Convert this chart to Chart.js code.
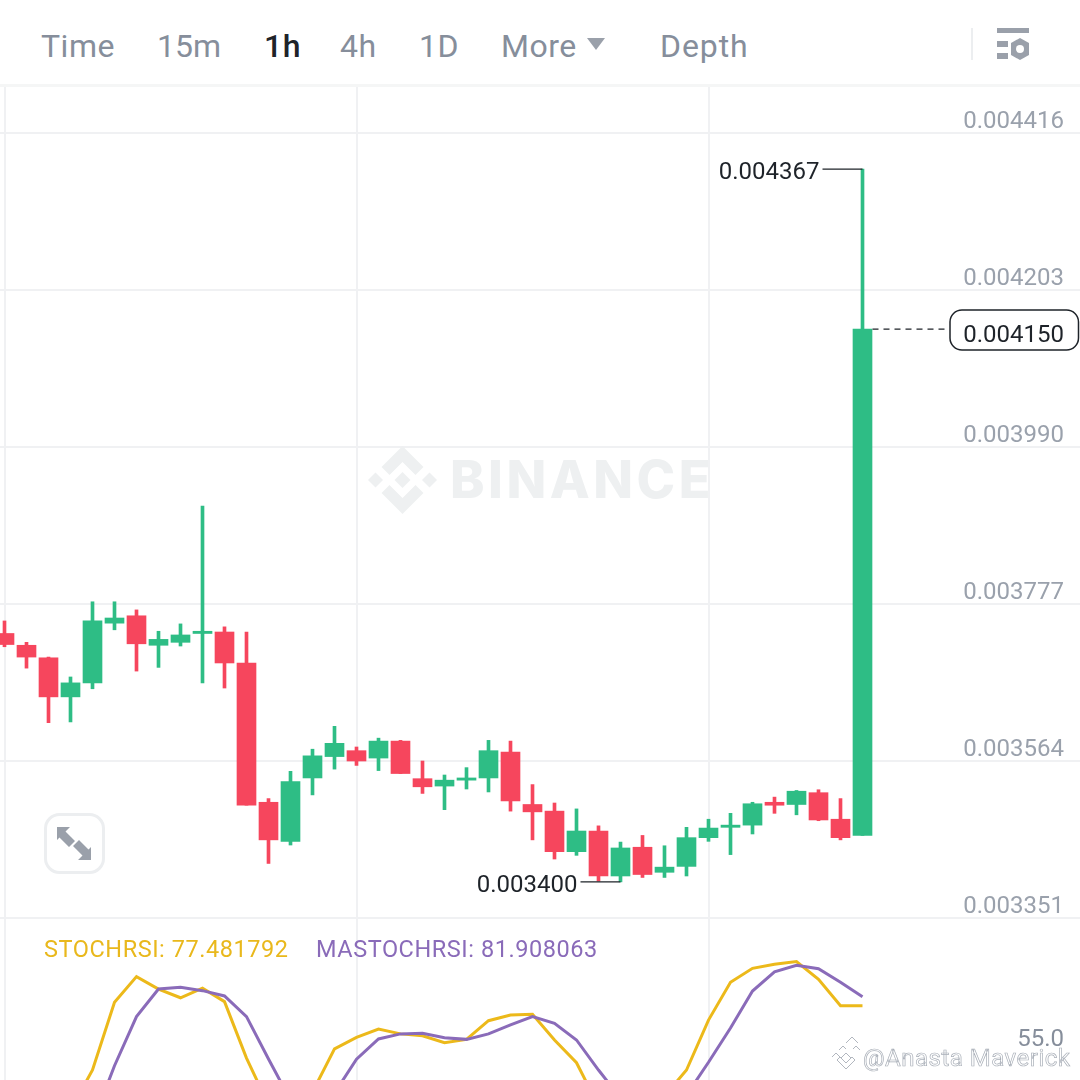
<!DOCTYPE html>
<html><head><meta charset="utf-8">
<script src="https://cdn.jsdelivr.net/npm/chart.js@4"></script>
<style>
html,body{margin:0;padding:0;background:#fff;width:1080px;height:1080px;overflow:hidden;font-family:Roboto,sans-serif}
canvas{position:absolute;left:0}
.t{position:absolute;top:26px;font-size:32px;line-height:40px;color:#868e9b;letter-spacing:.5px;white-space:nowrap}
.leg{position:absolute;top:935px;font-size:23.5px;line-height:28px;letter-spacing:.55px;white-space:nowrap}
svg{position:absolute;left:0;top:0;pointer-events:none}
#credit{position:absolute;left:863px;top:1043px;font-size:24px;line-height:30px;color:#fff;-webkit-text-stroke:.7px #a9afb8;letter-spacing:.5px;white-space:nowrap}
</style></head><body>
<div class="t" style="left:41px">Time</div>
<div class="t" style="left:157px;letter-spacing:0">15m</div>
<div class="t" style="left:264px;color:#1e2329;font-weight:500">1h</div>
<div class="t" style="left:340px">4h</div>
<div class="t" style="left:419px">1D</div>
<div class="t" style="left:501px">More</div>
<div class="t" style="left:660px;letter-spacing:.9px">Depth</div>
<canvas id="price" width="1080" height="832" style="top:87px"></canvas>
<canvas id="stoch" width="1080" height="161" style="top:919px"></canvas>
<div class="leg" id="legA" style="left:44px;color:#e9b81c"></div>
<div class="leg" id="legB" style="left:316px;color:#8a6bb9"></div>
<div id="credit">@Anasta Maverick</div>
<svg width="1080" height="1080">
  <rect x="0" y="84" width="1080" height="3" fill="#f5f6f6"/>
  <polygon points="587,38 605,38 596,50" fill="#9aa0aa"/>
  <rect x="971" y="28" width="2" height="32" fill="#eceef0"/>
  <rect x="997" y="28" width="32" height="5" fill="#9aa0aa"/>
  <rect x="997" y="41" width="11" height="6" fill="#9aa0aa"/>
  <rect x="997" y="53" width="11" height="6" fill="#9aa0aa"/>
  <polygon points="1020,38 1029,43 1029,55 1020,60 1011,55 1011,43" fill="#9aa0aa"/>
  <circle cx="1020" cy="49" r="4" fill="#fff"/>
  <rect x="45.5" y="814.5" width="58" height="58" rx="14" fill="#fff" stroke="#eceef0" stroke-width="3"/>
  <polygon points="57,827 70,827 65.5,831.5 75,841 69,847 59.5,837.5 57,840" fill="#9aa0aa"/>
  <polygon points="91,860 78,860 82.5,855.5 73,846 79,840 88.5,849.5 91,847" fill="#9aa0aa"/>
  <g fill="none" stroke="#b2b7bf" stroke-width="1">
    <path d="M846 1043 l6 -6 l6 6 M839 1050 l4 -4 l3 3 M853 1049 l3 -3 l4 4 M832 1057 l4 -4 l5 5 l5 -5 l5 5 M837 1060 l9 9 l9 -9 l-3 -3 l-6 6 l-6 -6 z"/>
  </g>
</svg>
<script>
const candleIndex = [0,1,2,3,4,5,6,7,8,9,10,11,12,13,14,15,16,17,18,19,20,21,22,23,24,25,26,27,28,29,30,31,32,33,34,35,36,37,38,39];
const openPrices = [0.003737,0.003721,0.003704,0.003651,0.003670,0.003751,0.003761,0.003721,0.003725,0.003737,0.003739,0.003697,0.003508,0.003455,0.003541,0.003570,0.003578,0.003568,0.003591,0.003540,0.003530,0.003538,0.003541,0.003576,0.003505,0.003496,0.003441,0.003469,0.003408,0.003447,0.003413,0.003421,0.003460,0.003474,0.003477,0.003508,0.003505,0.003521,0.003485,0.003463];
const closePrices = [0.003722,0.003705,0.003651,0.003670,0.003754,0.003758,0.003723,0.003729,0.003735,0.003740,0.003697,0.003504,0.003457,0.003536,0.003571,0.003588,0.003564,0.003591,0.003547,0.003529,0.003538,0.003541,0.003578,0.003510,0.003495,0.003441,0.003469,0.003408,0.003446,0.003410,0.003420,0.003460,0.003473,0.003477,0.003506,0.003504,0.003523,0.003484,0.003460,0.004150];
const highPrices = [0.003754,0.003725,0.003705,0.003678,0.003780,0.003780,0.003769,0.003740,0.003750,0.003910,0.003746,0.003739,0.003513,0.003550,0.003580,0.003611,0.003583,0.003595,0.003592,0.003564,0.003545,0.003555,0.003592,0.003591,0.003532,0.003507,0.003499,0.003476,0.003454,0.003463,0.003449,0.003474,0.003485,0.003493,0.003508,0.003515,0.003524,0.003525,0.003513,0.004367];
const lowPrices = [0.003719,0.003690,0.003616,0.003617,0.003662,0.003742,0.003686,0.003691,0.003720,0.003670,0.003663,0.003504,0.003425,0.003450,0.003518,0.003553,0.003558,0.003551,0.003547,0.003520,0.003498,0.003526,0.003522,0.003496,0.003457,0.003431,0.003436,0.003401,0.003400,0.003406,0.003406,0.003408,0.003455,0.003437,0.003465,0.003493,0.003491,0.003483,0.003457,0.003463];
const priceTicks = [0.004416,0.004203,0.003990,0.003777,0.003564,0.003351];
const stochRsi = [null,null,11.3,26.1,45.8,79.2,91.8,85.7,81.4,86.1,79.5,51.7,28.6,16.3,35.0,56.2,61.9,66.0,63.6,62.7,59.3,60.9,70.1,72.9,73.3,60.6,49.4,28.1,13.8,6.4,33.0,45.8,70.4,89.0,95.9,97.9,99.2,90.5,77.5,77.481792];
const maStochRsi = [null,null,null,6.4,19.7,47.9,72.1,85.7,86.6,84.9,82.3,72.1,51.2,31.0,16.3,34.5,51.1,61.1,63.6,63.9,61.7,60.9,63.6,68.0,72.1,68.8,60.6,45.8,32.0,23.7,23.7,33.5,49.6,66.5,84.7,94.2,97.4,95.7,89.0,81.908063];
const stochTicks = [55.0];
const verticalGridAt = [0,16,32];
const lastPrice = closePrices[closePrices.length-1];

const GREEN='#2ebd85', RED='#f6465d', GRID='#f0f1f3', TICK='#9aa1ac', DARK='#1e2329';
const FONT='Roboto, sans-serif';
const xMin=-4.5/22, xMax=1075.5/22;

function xScale(){return {type:'linear',min:xMin,max:xMax,offset:false,display:true,
  afterBuildTicks:s=>{s.ticks=verticalGridAt.map(v=>({value:v}));},
  grid:{color:GRID,lineWidth:2,drawTicks:false,offset:false},border:{display:false},ticks:{display:false}};}
function noFit(s){s.width=0;s.paddingTop=0;s.paddingBottom=0;}

const colors=candleIndex.map(i=>closePrices[i]>=openPrices[i]?GREEN:RED);

const overlay={id:'overlay',
  beforeDatasetsDraw(c){
    const g=c.ctx;g.save();
    g.fillStyle='#eef0f1';
    const cx=402.5,cy=480-87;
    const d=(x,y,r)=>{g.beginPath();g.moveTo(x,y-r);g.lineTo(x+r,y);g.lineTo(x,y+r);g.lineTo(x-r,y);g.closePath();g.fill();};
    d(cx,cy,8);d(cx-27,cy,7.5);d(cx+27,cy,7.5);
    const chev=s=>{g.beginPath();g.moveTo(cx,cy+s*34);g.lineTo(cx+21,cy+s*13);g.lineTo(cx+13,cy+s*5);g.lineTo(cx,cy+s*18);g.lineTo(cx-13,cy+s*5);g.lineTo(cx-21,cy+s*13);g.closePath();g.fill();};
    chev(-1);chev(1);
    g.font='800 52px Inter, '+FONT;g.textAlign='left';g.textBaseline='middle';
    g.letterSpacing='3.5px';
    g.fillText('BINANCE',450,cy+2);
    g.letterSpacing='0px';
    g.restore();
  },
  afterDatasetsDraw(c){
    const g=c.ctx,x=c.scales.x,y=c.scales.y;g.save();
    g.font='24px '+FONT;g.textBaseline='middle';g.fillStyle=DARK;g.strokeStyle=DARK;g.lineWidth=1.2;
    const hi=Math.max(...highPrices),hiI=highPrices.indexOf(hi);
    const lo=Math.min(...lowPrices),loI=lowPrices.indexOf(lo);
    const hy=y.getPixelForValue(hi),hx=x.getPixelForValue(hiI);
    g.beginPath();g.moveTo(hx-40,hy);g.lineTo(hx,hy);g.stroke();
    g.textAlign='right';g.fillText(hi.toFixed(6),hx-43,hy+4);
    const ly=y.getPixelForValue(lo),lx=x.getPixelForValue(loI);
    g.beginPath();g.moveTo(lx-40,ly);g.lineTo(lx,ly);g.stroke();
    g.fillText(lo.toFixed(6),lx-43,ly+4);
    const py=y.getPixelForValue(lastPrice),px=x.getPixelForValue(closePrices.length-1);
    g.setLineDash([6,5]);g.beginPath();g.moveTo(px+10,py);g.lineTo(946,py);g.stroke();g.setLineDash([]);
    g.beginPath();g.roundRect(950,py-19,128.5,40,12);g.fillStyle='#fff';g.fill();g.lineWidth=1.5;g.stroke();
    g.fillStyle=DARK;g.fillText(lastPrice.toFixed(6),1064,py+7);
    g.restore();
  }};

new Chart(document.getElementById('price'),{
  type:'bar',
  data:{datasets:[
    {label:'wick',data:candleIndex.map(i=>({x:i,y:[lowPrices[i],highPrices[i]]})),backgroundColor:colors,barThickness:3,grouped:false,order:2},
    {label:'body',data:candleIndex.map(i=>({x:i,y:[openPrices[i],closePrices[i]]})),backgroundColor:colors,barThickness:19,grouped:false,order:1}
  ]},
  options:{responsive:false,animation:false,events:[],layout:{padding:0},
    plugins:{legend:{display:false},tooltip:{enabled:false}},
    scales:{x:xScale(),
      y:{type:'linear',position:'right',min:0.00334964,max:0.00447841,
        afterBuildTicks:s=>{s.ticks=priceTicks.map(v=>({value:v}));},afterFit:noFit,
        grid:{color:GRID,lineWidth:2,drawTicks:false},border:{display:false},
        ticks:{mirror:true,padding:-16,labelOffset:-11,color:TICK,font:{family:FONT,size:24},callback:v=>v.toFixed(6)}}}},
  plugins:[overlay]});

new Chart(document.getElementById('stoch'),{
  type:'line',
  data:{labels:candleIndex,datasets:[
    {label:'MASTOCHRSI',data:candleIndex.map(i=>({x:i,y:maStochRsi[i]})),borderColor:'#8a6bb9',borderWidth:3,pointRadius:0,tension:0,fill:false},
    {label:'STOCHRSI',data:candleIndex.map(i=>({x:i,y:stochRsi[i]})),borderColor:'#ecb91a',borderWidth:3,pointRadius:0,tension:0,fill:false}
  ]},
  options:{responsive:false,animation:false,events:[],layout:{padding:0},
    plugins:{legend:{display:false},tooltip:{enabled:false}},
    scales:{x:xScale(),
      y:{type:'linear',position:'right',min:40.88,max:120.2,
        afterBuildTicks:s=>{s.ticks=stochTicks.map(v=>({value:v}));},afterFit:noFit,
        grid:{display:false},border:{display:false},
        ticks:{mirror:true,padding:-16,labelOffset:-11,color:'#868e9b',font:{family:FONT,size:24},callback:v=>v.toFixed(1)}}}}});

document.getElementById('legA').textContent='STOCHRSI: '+stochRsi[stochRsi.length-1].toFixed(6);
document.getElementById('legB').textContent='MASTOCHRSI: '+maStochRsi[maStochRsi.length-1].toFixed(6);
</script>
</body></html>
